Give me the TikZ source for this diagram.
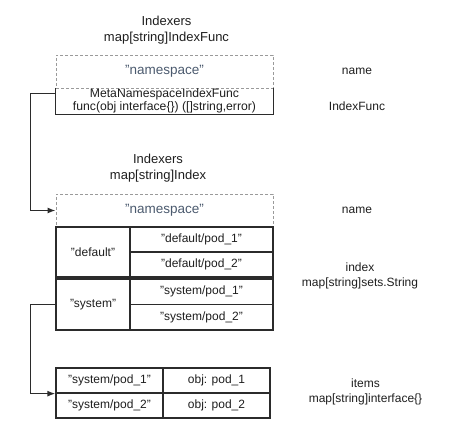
\documentclass[tikz,border=0pt]{standalone}
\usepackage{fontspec}
\setmainfont{Liberation Sans}
\usetikzlibrary{arrows.meta}
\definecolor{linec}{HTML}{2B2B2B}
\definecolor{dashc}{HTML}{9A9A9A}
\definecolor{nsc}{HTML}{4B5A6E}
\definecolor{txtc}{HTML}{1E1E1E}
\tikzset{
  title/.style={align=center,text=txtc,font=\fontsize{13}{16}\selectfont,inner sep=0pt},
  lbl/.style={align=center,text=txtc,font=\fontsize{12}{14.5}\selectfont,inner sep=0pt},
  nsbox/.style={draw=dashc,dashed,line width=0.9pt,dash pattern=on 3pt off 2pt,minimum width=217pt,minimum height=33pt,text=nsc,font=\fontsize{13.5}{16}\selectfont,inner sep=0pt},
  cell/.style={draw=linec,line width=1.3pt,text=txtc,font=\fontsize{12}{14}\selectfont,inner sep=0pt},
  conn/.style={draw=linec,line width=1.3pt,-{Latex[length=8pt,width=6pt]}},
}
\begin{document}
\begin{tikzpicture}[x=1pt,y=-1pt]
\useasboundingbox (0,0) rectangle (474,427);
% ---- top section
\node[title] (t1) at (166.5,30) {Indexers\\map[string]IndexFunc};
\node[nsbox] (ns1) at (164.5,71.5) {"namespace"};
\node[align=center,text=txtc,font=\fontsize{12.2}{12.5}\selectfont,inner sep=0pt,minimum width=217pt,minimum height=26pt] (func) at (164.5,101) {MetaNamespaceIndexFunc\\func(obj interface\{\}) ([]string,error)};
\draw[linec,line width=1.3pt] (func.north west) -- (func.south west) -- (func.south east) -- (func.north east);
\node[lbl] (l1) at (357,71) {name};
\node[lbl] (l2) at (357,106) {IndexFunc};
% ---- second section
\node[title] (t2) at (158,168) {Indexers\\map[string]Index};
\node[nsbox] (ns2) at (164.5,210.5) {"namespace"};
\node[lbl] (l3) at (357,210) {name};
% default block
\node[cell,minimum width=74pt,minimum height=50pt] (def) at (93,252) {"default"};
\node[cell,minimum width=143pt,minimum height=25pt] (d1) at (201.5,239.5) {"default/pod\_1"};
\node[cell,minimum width=143pt,minimum height=25pt] (d2) at (201.5,264.5) {"default/pod\_2"};
% system block
\node[cell,minimum width=74pt,minimum height=51pt] (sys) at (93,304.5) {"system"};
\node[cell,minimum width=143pt,minimum height=25.5pt] (s1) at (201.5,291.75) {"system/pod\_1"};
\node[cell,minimum width=143pt,minimum height=25.5pt] (s2) at (201.5,317.25) {"system/pod\_2"};
\node[lbl] (l4) at (360,276) {index\\map[string]sets.String};
% items
\node[cell,minimum width=107pt,minimum height=25pt] (i11) at (109.5,380.5) {"system/pod\_1"};
\node[cell,minimum width=107pt,minimum height=25pt] (i12) at (216.5,380.5) {obj: pod\_1};
\node[cell,minimum width=107pt,minimum height=25pt] (i21) at (109.5,405.5) {"system/pod\_2"};
\node[cell,minimum width=107pt,minimum height=25pt] (i22) at (216.5,405.5) {obj: pod\_2};
\node[lbl] (l5) at (365.5,392) {items\\map[string]interface\{\}};
% connectors
\coordinate (c1) at ([yshift=-6pt]func.north west);
\draw[conn] (c1) -- ++(-25,0) |- (ns2.west);
\draw[conn] (sys.west) -- ++(-25,0) |- (i11.south west);
\end{tikzpicture}
\end{document}
